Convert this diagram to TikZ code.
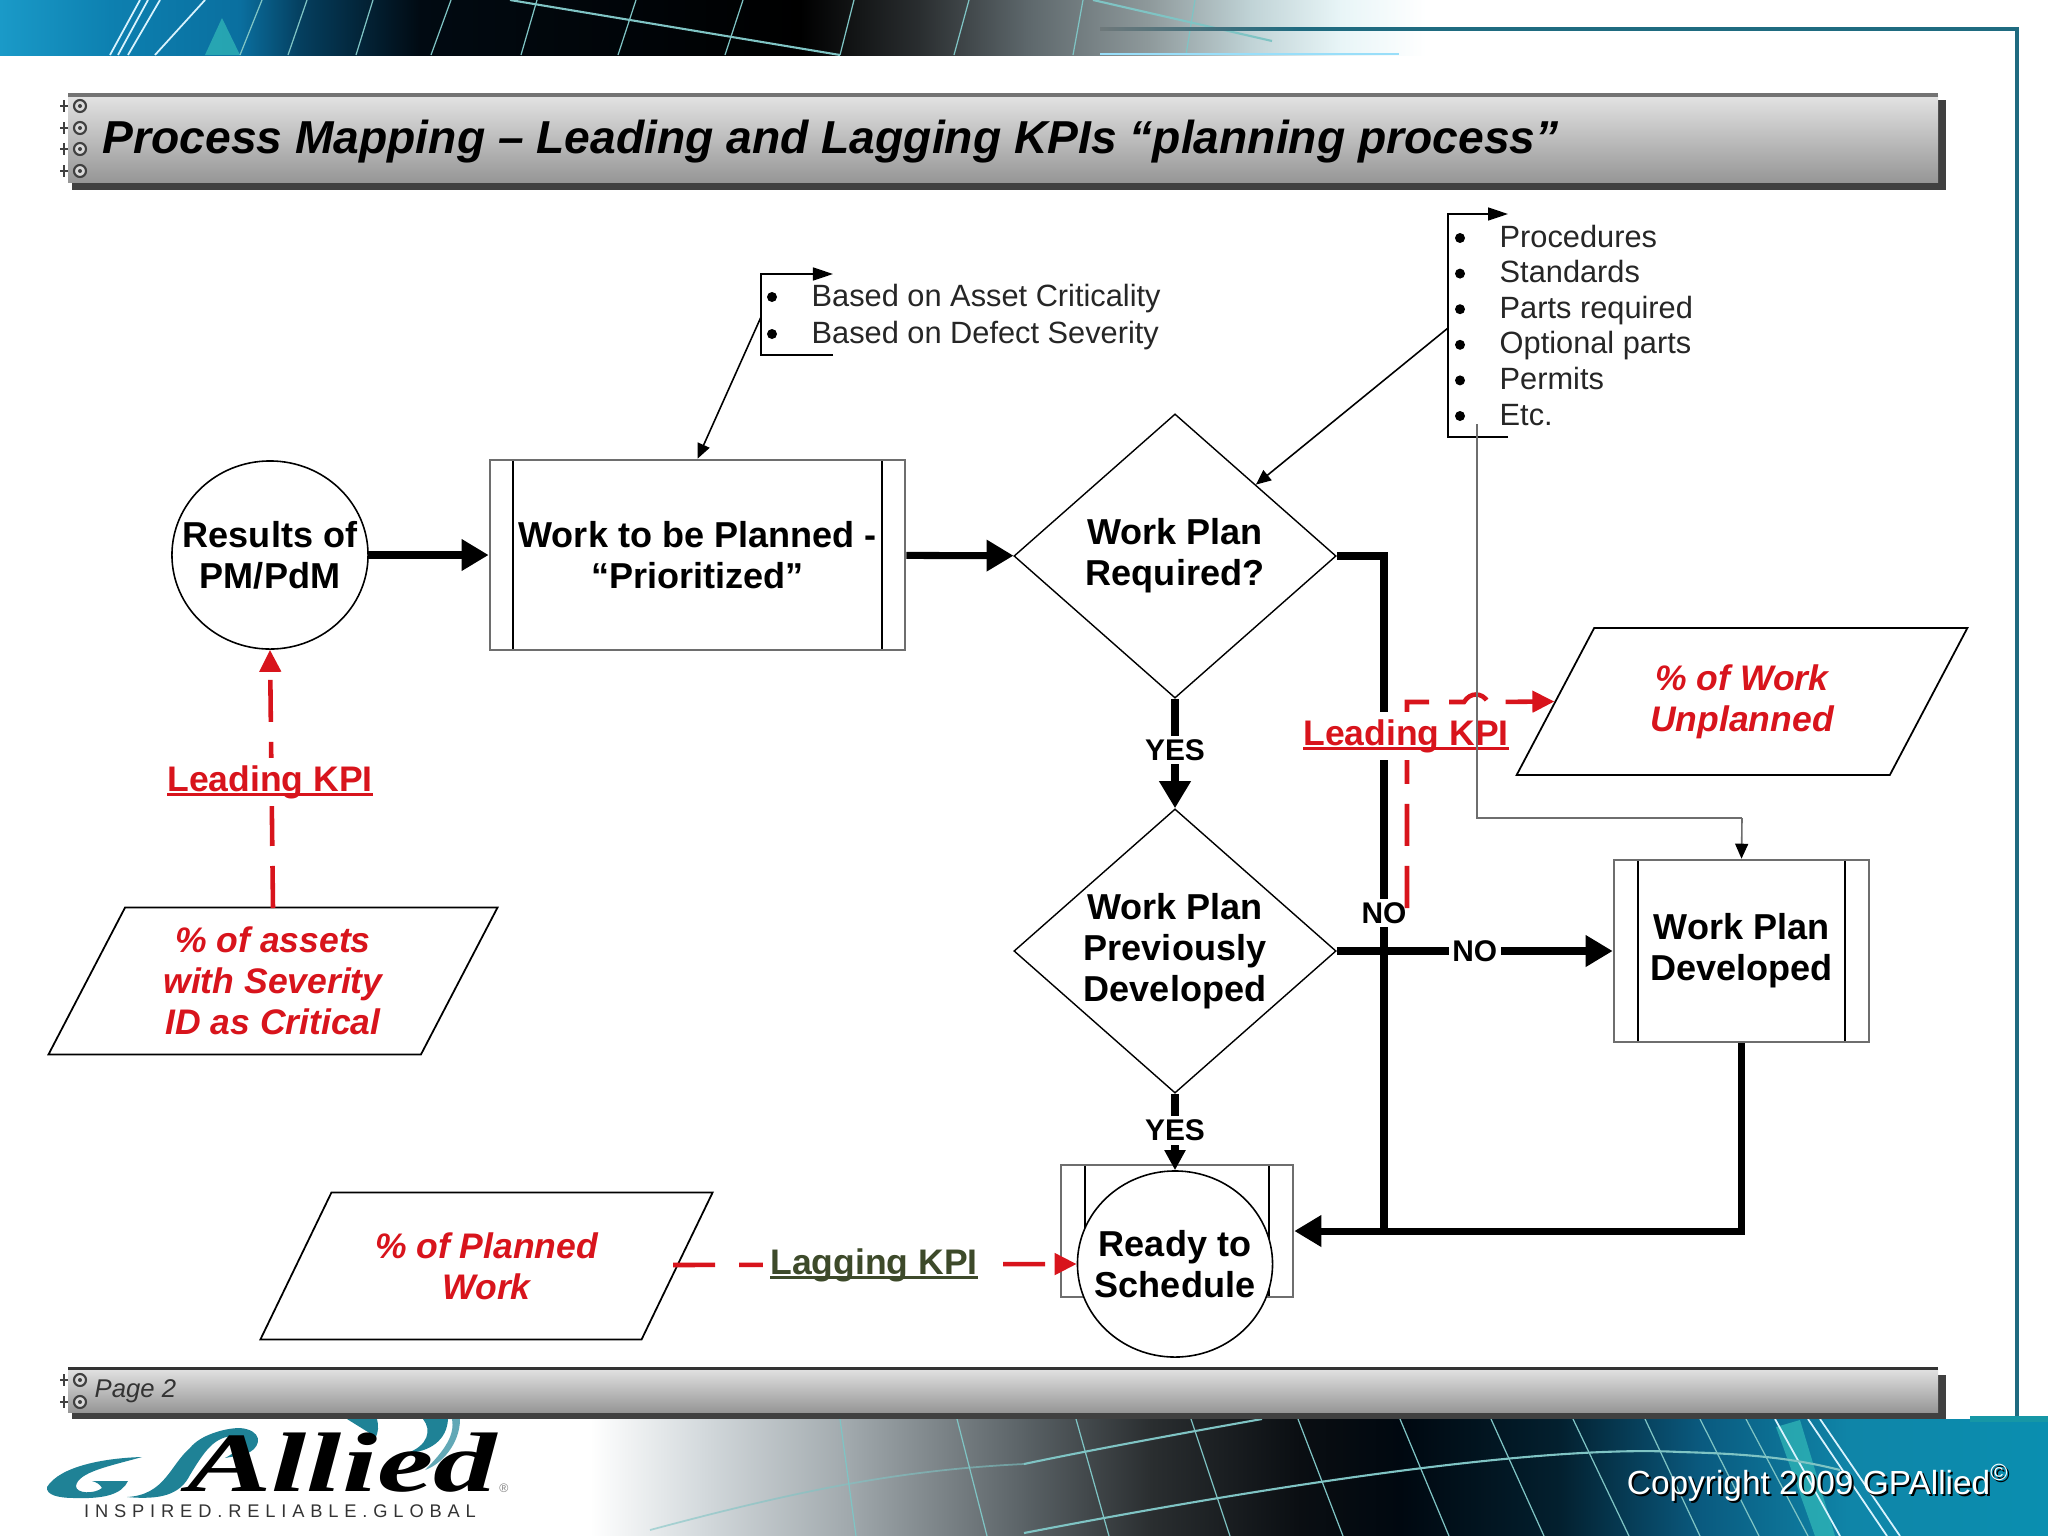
\documentclass[tikz,border=0pt]{standalone}
\usepackage{fontspec}
\setmainfont{Liberation Sans}
\newfontfamily\logofont{Liberation Serif}
\newfontfamily\tagfont[LetterSpace=32]{Liberation Sans}
\usetikzlibrary{arrows.meta,shapes.geometric}

\definecolor{kpired}{HTML}{D8141C}
\definecolor{lagolive}{HTML}{3D4A2A}
\definecolor{boxgray}{HTML}{6E6E6E}
\definecolor{framecol}{HTML}{1F6B80}
\definecolor{logoteal}{HTML}{1F8296}
\definecolor{gridcol}{HTML}{7FC4C4}

\newcommand{\kpiunder}[1]{\setbox0\hbox{#1}\rlap{\rule[-1.4pt]{\wd0}{.8pt}}\box0}

\tikzset{
  flowtext/.style={font=\fontsize{10.25}{11.6}\selectfont\bfseries, align=center},
  smalltag/.style={font=\fontsize{8.5}{10}\selectfont\bfseries, fill=white, inner sep=1pt},
  kpitag/.style={font=\fontsize{10.1}{11.6}\selectfont\bfseries, fill=white, inner sep=2pt},
  listtext/.style={font=\fontsize{8.75}{10}\selectfont, text=black!85, anchor=base west, inner sep=0pt},
  datatext/.style={font=\fontsize{10.1}{11.6}\selectfont\bfseries\itshape, text=kpired, align=center},
  predef/.style={rectangle, draw=boxgray, line width=.7pt, fill=white, inner sep=0pt,
    path picture={
      \draw[black, line width=.45pt] ([xshift=#1]path picture bounding box.north west) -- ([xshift=#1]path picture bounding box.south west);
      \draw[black, line width=.45pt] ([xshift=-#1]path picture bounding box.north east) -- ([xshift=-#1]path picture bounding box.south east);
    }},
  decide/.style={diamond, draw=black, line width=.4pt, inner sep=0pt, aspect=1.134,
    minimum width=3.22cm, minimum height=2.84cm},
  datapara/.style={trapezium, trapezium stretches=true, draw=black, line width=.5pt, inner sep=0pt,
    trapezium left angle=#1, trapezium right angle=180-#1,
    minimum width=4.52cm, minimum height=1.47cm},
  roundnode/.style={ellipse, draw=black, line width=.45pt, fill=white, inner ysep=0pt, inner xsep=-.4cm},
  thickline/.style={line width=2pt},
  thickarrow/.style={thickline, -{Triangle[length=.27cm,width=.3cm]}},
  thinarrow/.style={line width=.45pt, -{Triangle[length=.15cm,width=.13cm,black]}},
  kpiarrow/.style={kpired, line width=1.3pt, dash pattern=on .42cm off .2cm, -{Triangle[length=.22cm,width=.21cm]}},
  barbody/.style={top color=black!11, bottom color=black!41},
}

\begin{document}
\begin{tikzpicture}[x=0.01cm,y=-0.01cm]
  \useasboundingbox (0,0) rectangle (2048,1536);
  \fill[white] (0,0) rectangle (2048,1536);

  % top band
  \foreach \xa/\xb/\ca/\cb in {0/110/1A9AC8/0D80B0, 110/240/0D80B0/0A6F9F, 240/300/0A6F9F/053F5F,
      300/420/053F5F/010A12, 420/800/010A12/000000, 800/920/000000/2A2E30, 920/1024/2A2E30/5C666A,
      1024/1150/5C666A/8F9A9C, 1150/1250/8F9A9C/C0D3D6, 1250/1340/C0D3D6/E8F5F7, 1340/1425/E8F5F7/FFFFFF}{
    \definecolor{ca}{HTML}{\ca}\definecolor{cb}{HTML}{\cb}
    \shade[left color=ca, right color=cb] (\xa,0) rectangle (\xb+1,55);
  }
  \fill[cyan!60!green!80!white, opacity=.7] (205,55) -- (222,18) -- (240,55) -- cycle;
  \foreach \xa/\xb in {110/140, 118/148, 128/160, 155/205}{
    \draw[white!85!cyan, line width=.5pt] (\xa,55) -- (\xb,0);
  }
  \foreach \xa/\xb in {240/262, 288/307, 356/373, 431/451, 521/537, 618/636, 725/743, 840/854, 954/969, 1073/1083, 1186/1195}{
    \draw[gridcol, line width=.35pt] (\xa,55) -- (\xb,0);
  }
  \draw[gridcol, line width=.6pt] (510,0) -- (840,55);
  \draw[gridcol, line width=.6pt] (1093,0) -- (1272,41);
  \draw[cyan!40, line width=.5pt] (1100,54) -- (1399,54);

  % bottom band
  \foreach \xa/\xb/\ca/\cb in {590/700/FFFFFF/D4DADD, 700/850/D4DADD/A0A8AC, 850/1024/A0A8AC/5A6266,
      1024/1150/5A6266/2A2E30, 1150/1300/2A2E30/0A0E12, 1300/1400/0A0E12/000810, 1400/1560/000810/03202F, 1560/1700/03202F/0A5A7F,
      1700/1850/0A5A7F/0F85A8, 1850/2048/0F85A8/0A8FB0}{
    \definecolor{ca}{HTML}{\ca}\definecolor{cb}{HTML}{\cb}
    \shade[left color=ca, right color=cb] (\xa,1419) rectangle (\xb+1,1536);
  }
  \fill[cyan!60!green!80!white, opacity=.7] (1776,1427) -- (1800,1420) -- (1835,1536) -- (1815,1536) -- cycle;
  \foreach \xa/\xb in {840/856, 957/987, 1076/1109, 1191/1230, 1298/1343, 1400/1449, 1491/1544, 1573/1629, 1645/1700, 1700/1759, 1746/1808}{
    \draw[gridcol, line width=.35pt] (\xa,1419) -- (\xb,1536);
  }
  \foreach \xa/\xb in {1775/1840, 1808/1887, 1820/1900}{
    \draw[white!85!cyan, line width=.5pt] (\xa,1419) -- (\xb,1536);
  }
  \draw[gridcol, line width=.6pt] (1024,1464) .. controls (1090,1450) and (1200,1430) .. (1262,1419);
  \draw[gridcol, line width=.6pt] (1024,1533) .. controls (1300,1480) and (1550,1445) .. (1680,1452) .. controls (1760,1454) and (1800,1460) .. (1840,1470);
  \draw[gridcol, line width=.5pt, opacity=.6] (650,1530) .. controls (800,1490) and (900,1470) .. (1024,1464);

  % frame
  \definecolor{framefade}{HTML}{6E787A}
  \shade[left color=framefade, right color=framecol] (1100,27.5) rectangle (1300,30.5);
  \draw[framecol, line width=.9pt] (1300,29) -- (2017,29) -- (2017,1419);
  \fill[framecol!70!cyan] (1970,1416) rectangle (2048,1422);

  % header and footer bars
  \fill[black!75] (72,100) rectangle (1946,190);
  \fill[barbody] (68,95) rectangle (1938,182);
  \fill[black!55] (68,93) rectangle (1938,97);
  \fill[black!75] (72,1375) rectangle (1946,1419);
  \fill[barbody] (68,1368) rectangle (1938,1412);
  \fill[black!80] (68,1367) rectangle (1938,1370);
  \foreach \y in {106,128,149,171,1380,1402}{
    \draw[black!75, fill=black!15, line width=.6pt] (80,\y) circle [radius=6];
    \draw[black!75, line width=.8pt] (64,\y-6) -- (64,\y+6) (60,\y) -- (68,\y);
    \fill[black!75] (80,\y) circle [radius=2];
  }
  \node[anchor=west, inner sep=0pt, font=\fontsize{13.14}{15}\selectfont\bfseries\itshape] (pagetitle) at (102,141.5)
    {Process Mapping – Leading and Lagging KPIs “planning process”};
  \node[anchor=west, inner sep=0pt, font=\fontsize{7.3}{9}\selectfont\itshape, text=black!80] (pageno) at (94,1391) {Page 2};

  % logo
  \fill[logoteal] (347,1419) -- (377,1419) .. controls (379,1426) and (378,1432) .. (376,1437) -- cycle;
  \fill[logoteal] (423,1419) .. controls (432,1430) and (428,1446) .. (407,1453) .. controls (430,1452) and (447,1440) .. (448,1419) -- cycle;
  \fill[logoteal!70] (448,1419) -- (460,1419) .. controls (460,1445) and (440,1465) .. (425,1470) .. controls (445,1450) and (455,1435) .. (452,1419) -- cycle;
  \fill[logoteal] (47,1487) .. controls (60,1466) and (105,1458) .. (142,1457) .. controls (110,1466) and (78,1472) .. (76,1486)
     .. controls (76,1494) and (95,1494) .. (102,1488) .. controls (100,1484) and (96,1482) .. (92,1481) -- (128,1481)
     .. controls (122,1494) and (105,1499) .. (75,1498) .. controls (58,1498) and (46,1495) .. (47,1487) -- cycle;
  \fill[logoteal] (127,1497) .. controls (165,1495) and (170,1465) .. (190,1448) .. controls (200,1435) and (225,1428) .. (240,1428)
     .. controls (262,1430) and (262,1445) .. (250,1452) .. controls (240,1456) and (235,1456) .. (225,1458)
     .. controls (240,1450) and (248,1440) .. (235,1436) .. controls (215,1436) and (205,1450) .. (190,1475)
     .. controls (180,1495) and (160,1500) .. (127,1497) -- cycle;
  \node[anchor=base, inner sep=0pt, font=\logofont\fontsize{24}{24}\selectfont\bfseries\itshape, xscale=1.5] (logoname) at (342,1491) {Allied};
  \node[inner sep=0pt, text=black!50, font=\fontsize{3.5}{4}\selectfont] (logoreg) at (504,1488) {®};
  \node[inner sep=0pt, text=black!80, font=\tagfont\fontsize{5.2}{6}\selectfont] (logotag) at (280,1511) {INSPIRED.RELIABLE.GLOBAL};

  % copyright
  \node[anchor=east, inner sep=0pt, text=black, font=\fontsize{9.5}{11}\selectfont] (copyshade) at (2012,1485) {Copyright 2009 GPAllied\textsuperscript{©}};
  \node[anchor=east, inner sep=0pt, text=white, font=\fontsize{9.5}{11}\selectfont] (copytext) at (2010,1483) {Copyright 2009 GPAllied\textsuperscript{©}};

  % flow nodes
  \node[roundnode, minimum width=1.96cm, minimum height=1.88cm, flowtext] (results) at (270,555) {Results of\\PM/PdM};
  \node[predef=.23cm, minimum width=4.15cm, minimum height=1.9cm, flowtext] (planned) at (697.5,555) {Work to be Planned -\\“Prioritized”};
  \node[decide, flowtext] (wpreq) at (1175,556) {\rule{0pt}{3pt}Work Plan\\Required?};
  \node[decide, flowtext] (wpprev) at (1175,951) {Work Plan\\Previously\\Developed};
  \node[predef=.24cm, minimum width=2.55cm, minimum height=1.82cm, flowtext] (wpdone) at (1741.5,951) {\rule{0pt}{6pt}Work Plan\\Developed};
  \node[predef=.24cm, minimum width=2.32cm, minimum height=1.32cm] (readybox) at (1177,1231) {};
  \node[roundnode, minimum width=1.95cm, minimum height=1.86cm, flowtext] (ready) at (1175,1264) {Ready to\\Schedule};

  % data nodes
  \node[datapara=62.2, datatext] (assetspct) at (273,981) {\% of assets\\with Severity\\ID as Critical};
  \node[datapara=56.9, datatext, minimum width=4.53cm] (unplanned) at (1742,701.5) {\% of Work\\Unplanned};
  \node[datapara=52.6, datatext, minimum width=4.53cm] (plannedpct) at (486.5,1266) {\% of Planned\\Work};

  % main flow
  \draw[thickarrow] (results) -- (planned);
  \draw[thickarrow] (planned) -- (wpreq);
  \coordinate (noturn) at (1384,1231);
  \draw[thickline] (wpreq.east) -| (noturn);
  \draw[thickarrow] (wpdone.south) |- (readybox.east);
  \draw[thickarrow] (wpprev.east) -- node[smalltag] (nomid) {NO} (wpdone.west);
  \node[smalltag] (nodown) at (1384,913) {NO};
  \draw[thickline, -{Triangle[length=.27cm,width=.3cm]}] (wpreq.south) -- node[smalltag, pos=.47] (yesup) {YES} (wpprev.north);
  \draw[thickline, -{Triangle[length=.2cm,width=.2cm]}] (wpprev.south) -- node[smalltag, pos=.48] (yeslow) {YES} (ready.north);

  % kpi links
  \coordinate (assetstop) at (273,908);
  \draw[kpiarrow] (assetstop) -- (results.south);
  \node[kpitag, text=kpired] (kpileft) at (270,782) {\kpiunder{Leading KPI}};
  \coordinate (unplanstart) at (1407,908);
  \draw[kpiarrow] (unplanstart) -- (1407,702) -- (1464,702) .. controls (1470,692) and (1482,692) .. (1488,702) -- (unplanned.west);
  \node[kpitag, text=kpired] (kpiright) at (1406,736) {\kpiunder{Leading KPI}};
  \coordinate (lagstart) at (673,1265);
  \draw[kpiarrow, dash pattern=on .42cm off .24cm] (lagstart) -- (ready.west);
  \node[kpitag, text=lagolive] (kpilag) at (874,1265) {\kpiunder{Lagging KPI}};

  % criticality list
  \foreach \y/\txt in {306/Based on Asset Criticality, 343/Based on Defect Severity}{
    \fill (772,\y-9) circle [radius=5];
    \node[listtext] (crit\y) at (811,\y) {\txt};
  }
  \coordinate (crittop) at (833,274);
  \coordinate (critbot) at (833,355);
  \coordinate (critside) at (761,317);
  \draw[thinarrow, -{Triangle[length=.2cm,width=.13cm]}] (critbot) -- (761,355) -- (761,274) -- (crittop);
  \draw[thinarrow] (critside) -- (planned.north);

  % procedures list
  \foreach \y/\txt/\nm in {247/Procedures/a, 282.6/Standards/b, 318.2/Parts required/c, 353.8/Optional parts/d, 389.4/Permits/e, 425/Etc./f}{
    \fill (1460,\y-9) circle [radius=5];
    \node[listtext] (proc\nm) at (1499,\y) {\txt};
  }
  \coordinate (proctop) at (1508,214);
  \coordinate (procbot) at (1508,437);
  \coordinate (procside) at (1448,328);
  \coordinate (procdrop) at (1477,424);
  \draw[thinarrow, -{Triangle[length=.2cm,width=.13cm]}] (procbot) -- (1448,437) -- (1448,214) -- (proctop);
  \draw[thinarrow] (procside) -- (wpreq.north east);
  \draw[boxgray, line width=.7pt] (procdrop) |- (1742,818);
  \draw[thinarrow, draw=boxgray] (1742,818) -- (wpdone.north);
\end{tikzpicture}
\end{document}
